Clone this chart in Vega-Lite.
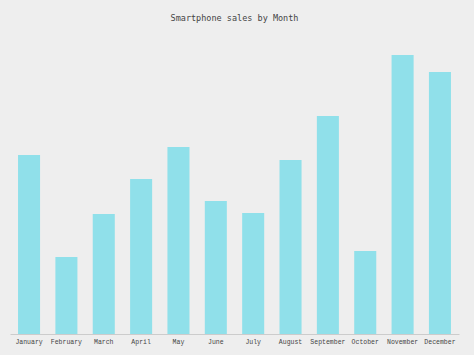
{
  "$schema": "https://vega.github.io/schema/vega-lite/v6.json",
  "width": 449,
  "height": 300,
  "autosize": {"type": "none"},
  "padding": {"left": 10, "top": 34, "right": 15, "bottom": 21},
  "background": "#eeeeee",
  "title": {
    "text": "Smartphone sales by Month",
    "font": "DejaVu Sans Mono",
    "fontSize": 8.5,
    "fontWeight": "normal",
    "color": "#444444",
    "anchor": "middle",
    "offset": 12
  },
  "config": {"view": {"stroke": null}},
  "data": {
    "values": [
      {"month": "January", "sales": 179},
      {"month": "February", "sales": 77},
      {"month": "March", "sales": 120},
      {"month": "April", "sales": 155},
      {"month": "May", "sales": 187},
      {"month": "June", "sales": 133},
      {"month": "July", "sales": 121},
      {"month": "August", "sales": 174},
      {"month": "September", "sales": 218},
      {"month": "October", "sales": 83},
      {"month": "November", "sales": 279},
      {"month": "December", "sales": 262}
    ]
  },
  "mark": {"type": "bar", "color": "#90e0ea"},
  "encoding": {
    "x": {
      "field": "month",
      "type": "nominal",
      "sort": null,
      "scale": {"paddingInner": 0.41, "paddingOuter": 0.215},
      "axis": {
        "title": null,
        "labelAngle": 0,
        "labelFont": "Liberation Mono",
        "labelFontSize": 6.5,
        "labelColor": "#444444",
        "labelPadding": 4,
        "ticks": false,
        "domainColor": "#cccccc",
        "grid": false
      }
    },
    "y": {
      "field": "sales",
      "type": "quantitative",
      "scale": {"domain": [0, 300]},
      "axis": null
    }
  }
}
